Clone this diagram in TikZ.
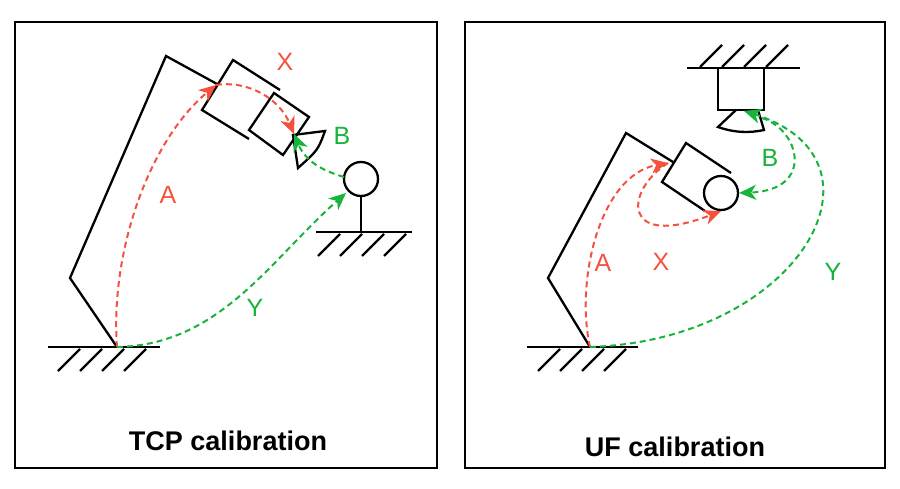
\documentclass[tikz,border=0pt]{standalone}
\usepackage{fontspec}
\setmainfont{Liberation Sans}
\usetikzlibrary{arrows.meta}
\definecolor{cr}{HTML}{F4523F}
\definecolor{cg}{HTML}{17B33A}
\tikzset{
 body/.style={line width=2.3pt,line join=miter},
 redarr/.style={cr,line width=2pt,dash pattern=on 6pt off 4pt,-{Stealth[length=17pt,width=15pt,inset=5pt]}},
 grnarr/.style={cg,line width=2pt,dash pattern=on 6pt off 4pt,-{Stealth[length=17pt,width=15pt,inset=5pt]}},
 lbl/.style={font=\fontsize{25}{25}\selectfont},
 ttl/.style={font=\bfseries\fontsize{27}{27}\selectfont}
}
\begin{document}
\begin{tikzpicture}[x=1pt,y=-1pt]
\useasboundingbox (0,0) rectangle (900,489);
\draw[line width=2pt] (15,22) rectangle (437,468);
\draw[line width=2pt] (465,22) rectangle (885,468);
% ---- left panel
\draw[body] (48,347) -- (160,347);
\foreach \x in {80,102,124,146} \draw[body] (\x,349) -- (\x-22,371);
\draw[body] (117,347) -- (70,278) -- (166,56) -- (217,84);
\draw[body] (280,90) -- (233,60) -- (202,110) -- (249,139);
\draw[body] (274,93) -- (309,117) -- (283,155) -- (249,130) -- cycle;
\draw[body] (293,135) -- (325,131) .. controls (318,150) .. (298,168) -- cycle;
\node[draw,circle,line width=2.3pt,minimum size=34pt,inner sep=0pt] (ball) at (361,179) {};
\draw[body] (ball.south) -- (361,232);
\draw[body] (316,232) -- (412,232);
\foreach \x in {340,362,384,406} \draw[body] (\x,234) -- (\x-22,256);
\coordinate (bL) at (117,347);
\coordinate (eL) at (216,85);
\coordinate (tL) at (294,134);
\draw[redarr] (bL) .. controls (110,250) and (150,140) .. (eL);
\draw[redarr] (eL) .. controls (250,80) and (280,100) .. (tL);
\draw[grnarr] (344,177) .. controls (320,170) and (305,160) .. (tL);
\draw[grnarr] (bL) .. controls (220,345) and (270,260) .. (346,193);
\node[lbl,text=cr] (xl) at (285,62) {X};
\node[lbl,text=cr] (al) at (168,195) {A};
\node[lbl,text=cg] (bl) at (342,136) {B};
\node[lbl,text=cg] (yl) at (255,308) {Y};
\node[ttl] (t1) at (228,441) {TCP calibration};
% ---- right panel
\draw[body] (527,347) -- (638,347);
\foreach \x in {560,582,604,626} \draw[body] (\x,349) -- (\x-22,371);
\draw[body] (590,347) -- (548,278) -- (626,133) -- (673,162);
\draw[body] (731,173) -- (686,143) -- (662,182) -- (705,211);
\node[draw,circle,line width=2.3pt,minimum size=34pt,inner sep=0pt] (ball2) at (721,193) {};
\draw[body] (687,68) -- (800,68);
\foreach \x in {700,722,744,766} \draw[body] (\x,67) -- (\x+22,45);
\draw[body] (718,68) rectangle (764,110);
\draw[body] (736,110) -- (718,127) .. controls (735,133) and (750,133) .. (764,130) -- (758,110);
\coordinate (bR) at (590,347);
\coordinate (cR) at (744,111);
\draw[redarr] (bR) .. controls (575,280) and (600,175) .. (668,163);
\draw[redarr] (668,163) .. controls (625,190) and (620,250) .. (ball2.south);
\draw[grnarr] (762,118) .. controls (800,130) and (815,190) .. (ball2.east);
\draw[grnarr] (bR) .. controls (800,340) and (900,160) .. (cR);
\node[lbl,text=cr] (ar) at (603,263) {A};
\node[lbl,text=cr] (xr) at (661,262) {X};
\node[lbl,text=cg] (br) at (770,158) {B};
\node[lbl,text=cg] (yr) at (833,272) {Y};
\node[ttl] (t2) at (675,447) {UF calibration};
\end{tikzpicture}
\end{document}
